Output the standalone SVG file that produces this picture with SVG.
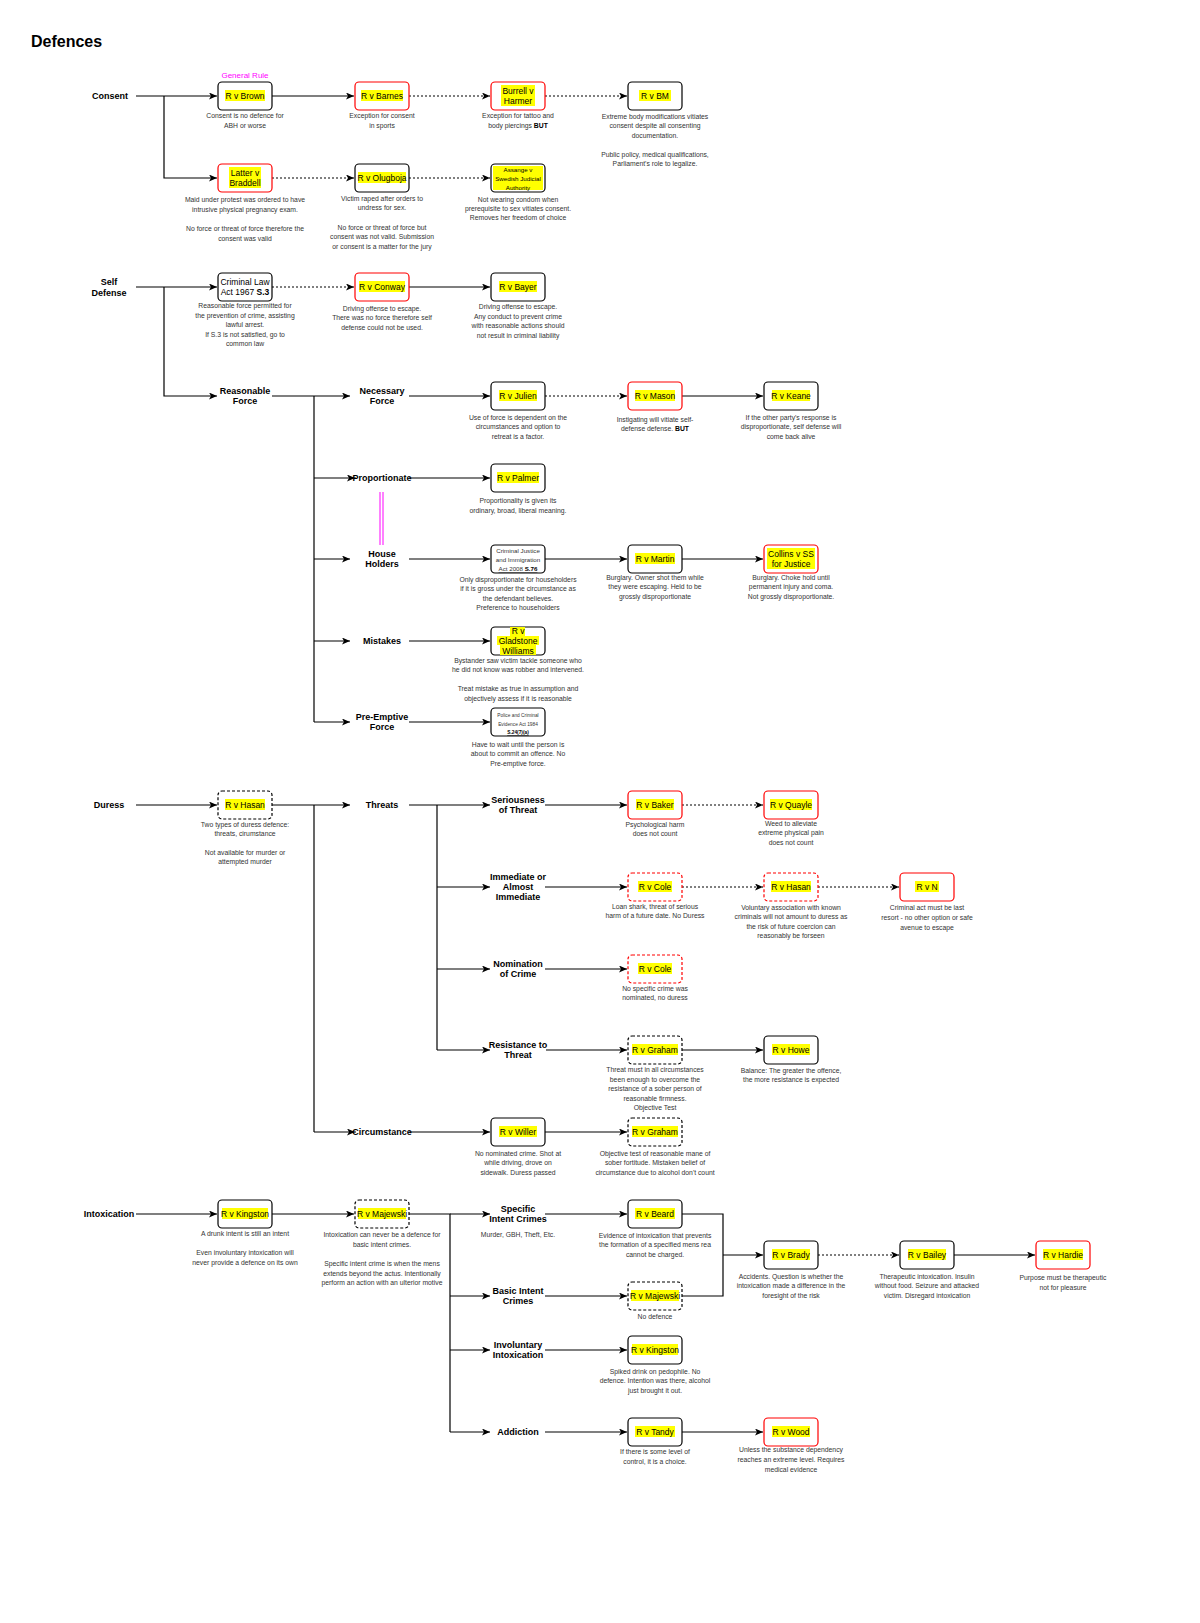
<svg xmlns="http://www.w3.org/2000/svg" width="1200" height="1623" viewBox="0 0 1200 1623">
<style>
text{font-family:"Liberation Sans",Arial,sans-serif}
.n{fill:#fff;stroke:#000;stroke-width:1.2}
.r{fill:#fff;stroke:#ff0000;stroke-width:1.2}
.d{stroke-dasharray:3,2}
.t{font-size:8.5px;text-anchor:middle;fill:#000}
.hl{fill:#ffff00}
.l{font-size:9px;font-weight:bold;text-anchor:middle;fill:#000}
.s{font-size:6.8px;text-anchor:middle;fill:#333}
.c{fill:none;stroke:#000;stroke-width:1.2}
.a{marker-end:url(#ar)}
.dt{stroke-dasharray:2,2}
.sm{font-size:12.4px;text-anchor:middle}
.xs{font-size:9.6px;text-anchor:middle}
</style>
<defs><marker id="ar" markerWidth="8" markerHeight="7" refX="8" refY="3.5" orient="auto" markerUnits="userSpaceOnUse"><path d="M0,0 L8,3.5 L0,7 L2,3.5 z" fill="#000"/></marker></defs>
<rect width="1200" height="1623" fill="#fff"/>
<text x="31" y="47" font-size="16" font-weight="bold">Defences</text>

<g id="connectors">
<path class="c a" d="M136,96 H217"/>
<path class="c a" d="M164,96 V178 H217"/>
<path class="c a" d="M272,96 H354"/>
<path class="c a dt" d="M409,96 H490"/>
<path class="c a dt" d="M545,96 H627"/>
<path class="c a dt" d="M272,178 H354"/>
<path class="c a dt" d="M409,178 H490"/>
<path class="c a" d="M136,287 H217"/>
<path class="c a" d="M164,287 V396 H217"/>
<path class="c a dt" d="M272,287 H354"/>
<path class="c a" d="M409,287 H490"/>
<path class="c a" d="M272,396 H350"/>
<path class="c" d="M314,396 V722"/>
<path class="c a" d="M409,396 H490"/>
<path class="c a dt" d="M545,396 H627"/>
<path class="c a" d="M682,396 H763"/>
<path class="c a" d="M314,478 H355"/>
<path class="c a" d="M355,478 H490"/>
<path class="c a" d="M314,559 H350"/>
<path class="c a" d="M409,559 H490"/>
<path class="c a" d="M545,559 H627"/>
<path class="c a" d="M682,559 H763"/>
<path class="c a" d="M314,641 H350"/>
<path class="c a" d="M409,641 H490"/>
<path class="c a" d="M314,722 H350"/>
<path class="c a" d="M409,722 H490"/>
<path d="M380,492 V545 M383,492 V545" stroke="#ff00ff" stroke-width="1"/>
<path class="c a" d="M136,805 H217"/>
<path class="c a" d="M272,805 H350"/>
<path class="c" d="M314,805 V1132"/>
<path class="c a" d="M409,805 H490"/>
<path class="c" d="M437,805 V1050"/>
<path class="c a" d="M545,805 H627"/>
<path class="c a dt" d="M682,805 H763"/>
<path class="c a" d="M437,887 H490"/>
<path class="c a" d="M545,887 H627"/>
<path class="c a dt" d="M682,887 H763"/>
<path class="c a dt" d="M818,887 H899"/>
<path class="c a" d="M437,969 H490"/>
<path class="c a" d="M545,969 H627"/>
<path class="c a" d="M437,1050 H490"/>
<path class="c a" d="M545,1050 H627"/>
<path class="c a" d="M682,1050 H763"/>
<path class="c a" d="M314,1132 H355"/>
<path class="c a" d="M355,1132 H490"/>
<path class="c a" d="M545,1132 H627"/>
<path class="c a" d="M136,1214 H217"/>
<path class="c a" d="M272,1214 H354"/>
<path class="c" d="M409,1214 H450 V1432"/>
<path class="c a" d="M450,1214 H490"/>
<path class="c a" d="M545,1214 H627"/>
<path class="c" d="M682,1214 H723 V1296 H682"/>
<path class="c a" d="M723,1255 H763"/>
<path class="c a dt" d="M818,1255 H899"/>
<path class="c a" d="M954,1255 H1035"/>
<path class="c a" d="M450,1296 H490"/>
<path class="c a" d="M545,1296 H627"/>
<path class="c a" d="M450,1350 H490"/>
<path class="c a" d="M545,1350 H627"/>
<path class="c a" d="M450,1432 H490"/>
<path class="c a" d="M545,1432 H627"/>
<path class="c a" d="M682,1432 H763"/>
</g>

<g id="consent"><text class="l" x="110" y="99">Consent</text></g>
<g id="self-defense"><text class="l" x="109" y="285">Self</text><text class="l" x="109" y="296">Defense</text></g>
<g id="duress"><text class="l" x="109" y="808">Duress</text></g>
<g id="intoxication"><text class="l" x="109" y="1217">Intoxication</text></g>
<g id="l-reasonable"><text class="l" x="245" y="394" font-size="8">Reasonable</text><text class="l" x="245" y="404" font-size="8">Force</text></g>
<g id="l-necessary"><text class="l" x="382" y="394" font-size="8">Necessary</text><text class="l" x="382" y="404" font-size="8">Force</text></g>
<g id="l-proportionate"><rect x="356" y="472" width="53" height="11" fill="#fff"/><text class="l" x="382" y="481" font-size="8">Proportionate</text></g>
<g id="l-house"><text class="l" x="382" y="557" font-size="8">House</text><text class="l" x="382" y="567" font-size="8">Holders</text></g>
<g id="l-mistakes"><text class="l" x="382" y="644" font-size="8">Mistakes</text></g>
<g id="l-preemptive"><text class="l" x="382" y="720" font-size="8">Pre-Emptive</text><text class="l" x="382" y="730" font-size="8">Force</text></g>
<g id="l-threats"><text class="l" x="382" y="808" font-size="8">Threats</text></g>
<g id="l-serious"><text class="l" x="518" y="803" font-size="8">Seriousness</text><text class="l" x="518" y="813" font-size="8">of Threat</text></g>
<g id="l-immediate"><text class="l" x="518" y="880" font-size="8">Immediate or</text><text class="l" x="518" y="890" font-size="8">Almost</text><text class="l" x="518" y="900" font-size="8">Immediate</text></g>
<g id="l-nomination"><text class="l" x="518" y="967" font-size="8">Nomination</text><text class="l" x="518" y="977" font-size="8">of Crime</text></g>
<g id="l-resistance"><rect x="490" y="1043" width="56" height="10" fill="#fff"/><text class="l" x="518" y="1048" font-size="8">Resistance to</text><text class="l" x="518" y="1058" font-size="8">Threat</text></g>
<g id="l-circumstance"><rect x="356" y="1126" width="53" height="11" fill="#fff"/><text class="l" x="382" y="1135" font-size="8">Circumstance</text></g>
<g id="l-specific"><text class="l" x="518" y="1212" font-size="8">Specific</text><text class="l" x="518" y="1222" font-size="8">Intent Crimes</text><text class="s" x="518" y="1237">Murder, GBH, Theft, Etc.</text></g>
<g id="l-basic"><text class="l" x="518" y="1294" font-size="8">Basic Intent</text><text class="l" x="518" y="1304" font-size="8">Crimes</text></g>
<g id="l-involuntary"><text class="l" x="518" y="1348" font-size="8">Involuntary</text><text class="l" x="518" y="1358" font-size="8">Intoxication</text></g>
<g id="l-addiction"><text class="l" x="518" y="1435" font-size="8">Addiction</text></g>

<g id="brown"><text x="245" y="78" font-size="8" fill="#ff00ff" text-anchor="middle">General Rule</text><rect class="n" x="218" y="82" width="54" height="28" rx="4"/><rect class="hl" x="225" y="90" width="40" height="11"/><text class="t" x="245" y="99">R v Brown</text><text class="s" x="245" y="118">Consent is no defence for</text><text class="s" x="245" y="128">ABH or worse</text></g>
<g id="barnes"><rect class="r" x="355" y="82" width="54" height="28" rx="4"/><rect class="hl" x="361" y="90" width="42" height="11"/><text class="t" x="382" y="99">R v Barnes</text><text class="s" x="382" y="118">Exception for consent</text><text class="s" x="382" y="128">in sports</text></g>
<g id="burrell"><rect class="r" x="491" y="82" width="54" height="28" rx="4"/><rect class="hl" x="501" y="85" width="34" height="21"/><text class="t" x="518" y="94">Burrell v</text><text class="t" x="518" y="104">Harmer</text><text class="s" x="518" y="118">Exception for tattoo and</text><text class="s" x="518" y="128">body piercings <tspan font-weight="bold" fill="#000">BUT</tspan></text></g>
<g id="bm"><rect class="n" x="628" y="82" width="54" height="28" rx="4"/><rect class="hl" x="639" y="90" width="32" height="11"/><text class="t" x="655" y="99">R v BM</text><text class="s" x="655" y="119">Extreme body modifications vitiates</text><text class="s" x="655" y="128">consent despite all consenting</text><text class="s" x="655" y="138">documentation.</text><text class="s" x="655" y="157">Public policy, medical qualifications,</text><text class="s" x="655" y="166">Parliament's role to legalize.</text></g>
<g id="latter"><rect class="r" x="218" y="164" width="54" height="28" rx="4"/><rect class="hl" x="229" y="167" width="32" height="21"/><text class="t" x="245" y="176">Latter v</text><text class="t" x="245" y="186">Braddell</text><text class="s" x="245" y="202">Maid under protest was ordered to have</text><text class="s" x="245" y="212">intrusive physical pregnancy exam.</text><text class="s" x="245" y="231">No force or threat of force therefore the</text><text class="s" x="245" y="241">consent was valid</text></g>
<g id="olugboja"><rect class="n" x="355" y="164" width="54" height="28" rx="4"/><rect class="hl" x="358" y="172" width="48" height="11"/><text class="t" x="382" y="181">R v Olugboja</text><text class="s" x="382" y="201">Victim raped after orders to</text><text class="s" x="382" y="210">undress for sex.</text><text class="s" x="382" y="230">No force or threat of force but</text><text class="s" x="382" y="239">consent was not valid. Submission</text><text class="s" x="382" y="249">or consent is a matter for the jury</text></g>
<g id="assange"><rect class="n" x="491" y="164" width="54" height="28" rx="4"/><rect class="hl" x="493" y="166" width="50" height="24"/><g transform="translate(518,0) scale(0.5,1)"><text class="sm" x="0" y="172" transform="scale(1,0.5)" style="display:none"> </text></g><text class="sm" transform="translate(518,172) scale(0.5)">Assange v</text><text class="sm" transform="translate(518,181) scale(0.5)">Swedish Judicial</text><text class="sm" transform="translate(518,190) scale(0.5)">Authority</text><text class="s" x="518" y="202">Not wearing condom when</text><text class="s" x="518" y="211">prerequisite to sex vitiates consent.</text><text class="s" x="518" y="220">Removes her freedom of choice</text></g>

<g id="cla"><rect class="n" x="218" y="273" width="54" height="28" rx="4"/><text class="t" x="245" y="285" fill="#333" font-size="8">Criminal Law</text><text class="t" x="245" y="295" fill="#333" font-size="8">Act 1967 <tspan font-weight="bold" fill="#000">S.3</tspan></text><text class="s" x="245" y="308">Reasonable force permitted for</text><text class="s" x="245" y="318">the prevention of crime, assisting</text><text class="s" x="245" y="327">lawful arrest.</text><text class="s" x="245" y="337">If S.3 is not satisfied, go to</text><text class="s" x="245" y="346">common law</text></g>
<g id="conway"><rect class="r" x="355" y="273" width="54" height="28" rx="4"/><rect class="hl" x="359" y="281" width="46" height="11"/><text class="t" x="382" y="290">R v Conway</text><text class="s" x="382" y="311">Driving offense to escape.</text><text class="s" x="382" y="320">There was no force therefore self</text><text class="s" x="382" y="330">defense could not be used.</text></g>
<g id="bayer"><rect class="n" x="491" y="273" width="54" height="28" rx="4"/><rect class="hl" x="499" y="281" width="38" height="11"/><text class="t" x="518" y="290">R v Bayer</text><text class="s" x="518" y="309">Driving offense to escape.</text><text class="s" x="518" y="319">Any conduct to prevent crime</text><text class="s" x="518" y="328">with reasonable actions should</text><text class="s" x="518" y="338">not result in criminal liability</text></g>
<g id="julien"><rect class="n" x="491" y="382" width="54" height="28" rx="4"/><rect class="hl" x="499" y="390" width="38" height="11"/><text class="t" x="518" y="399">R v Julien</text><text class="s" x="518" y="420">Use of force is dependent on the</text><text class="s" x="518" y="429">circumstances and option to</text><text class="s" x="518" y="439">retreat is a factor.</text></g>
<g id="mason"><rect class="r" x="628" y="382" width="54" height="28" rx="4"/><rect class="hl" x="635" y="390" width="40" height="11"/><text class="t" x="655" y="399">R v Mason</text><text class="s" x="655" y="422">Instigating will vitiate self-</text><text class="s" x="655" y="431">defense defense. <tspan font-weight="bold" fill="#000">BUT</tspan></text></g>
<g id="keane"><rect class="n" x="764" y="382" width="54" height="28" rx="4"/><rect class="hl" x="772" y="390" width="38" height="11"/><text class="t" x="791" y="399">R v Keane</text><text class="s" x="791" y="420">If the other party's response is</text><text class="s" x="791" y="429">disproportionate, self defense will</text><text class="s" x="791" y="439">come back alive</text></g>
<g id="palmer"><rect class="n" x="491" y="464" width="54" height="28" rx="4"/><rect class="hl" x="497" y="472" width="42" height="11"/><text class="t" x="518" y="481">R v Palmer</text><text class="s" x="518" y="503">Proportionality is given its</text><text class="s" x="518" y="513">ordinary, broad, liberal meaning.</text></g>
<g id="cjia"><rect class="n" x="491" y="545" width="54" height="28" rx="4"/><text class="sm" fill="#333" transform="translate(518,553) scale(0.5)">Criminal Justice</text><text class="sm" fill="#333" transform="translate(518,562) scale(0.5)">and Immigration</text><text class="sm" fill="#333" text-decoration="underline" transform="translate(518,571) scale(0.5)">Act 2008 <tspan font-weight="bold" fill="#000">S.76</tspan></text><text class="s" x="518" y="582">Only disproportionate for householders</text><text class="s" x="518" y="591">if it is gross under the circumstance as</text><text class="s" x="518" y="601">the defendant believes.</text><text class="s" x="518" y="610">Preference to householders</text></g>
<g id="martin"><rect class="n" x="628" y="545" width="54" height="28" rx="4"/><rect class="hl" x="635" y="553" width="40" height="11"/><text class="t" x="655" y="562">R v Martin</text><text class="s" x="655" y="580">Burglary. Owner shot them while</text><text class="s" x="655" y="589">they were escaping. Held to be</text><text class="s" x="655" y="599">grossly disproportionate</text></g>
<g id="collins"><rect class="r" x="764" y="545" width="54" height="28" rx="4"/><rect class="hl" x="767" y="548" width="48" height="21"/><text class="t" x="791" y="557">Collins v SS</text><text class="t" x="791" y="567">for Justice</text><text class="s" x="791" y="580">Burglary. Choke hold until</text><text class="s" x="791" y="589">permanent injury and coma.</text><text class="s" x="791" y="599">Not grossly disproportionate.</text></g>
<g id="gladstone"><rect class="n" x="491" y="627" width="54" height="28" rx="4"/><rect class="hl" x="510" y="627" width="15" height="9"/><rect class="hl" x="497" y="636" width="42" height="9"/><rect class="hl" x="500" y="645" width="36" height="10"/><text class="t" x="518" y="634">R v</text><text class="t" x="518" y="644">Gladstone</text><text class="t" x="518" y="654">Williams</text><text class="s" x="518" y="663">Bystander saw victim tackle someone who</text><text class="s" x="518" y="672">he did not know was robber and intervened.</text><text class="s" x="518" y="691">Treat mistake as true in assumption and</text><text class="s" x="518" y="701">objectively assess if it is reasonable</text></g>
<g id="pace"><rect class="n" x="491" y="708" width="54" height="28" rx="4"/><text class="xs" fill="#333" transform="translate(518,717) scale(0.5)">Police and Criminal</text><text class="xs" fill="#333" transform="translate(518,726) scale(0.5)">Evidence Act 1984</text><text class="xs" font-weight="bold" text-decoration="underline" transform="translate(518,734) scale(0.5)">S.24(7)(a)</text><text class="s" x="518" y="747">Have to wait until the person is</text><text class="s" x="518" y="756">about to commit an offence. No</text><text class="s" x="518" y="766">Pre-emptive force.</text></g>

<g id="hasan"><rect class="n d" x="218" y="791" width="54" height="28" rx="4"/><rect class="hl" x="225" y="799" width="40" height="11"/><text class="t" x="245" y="808">R v Hasan</text><text class="s" x="245" y="827">Two types of duress defence:</text><text class="s" x="245" y="836">threats, cirumstance</text><text class="s" x="245" y="855">Not available for murder or</text><text class="s" x="245" y="864">attempted murder</text></g>
<g id="baker"><rect class="r" x="628" y="791" width="54" height="28" rx="4"/><rect class="hl" x="636" y="799" width="38" height="11"/><text class="t" x="655" y="808">R v Baker</text><text class="s" x="655" y="827">Psychological harm</text><text class="s" x="655" y="836">does not count</text></g>
<g id="quayle"><rect class="r" x="764" y="791" width="54" height="28" rx="4"/><rect class="hl" x="770" y="799" width="42" height="11"/><text class="t" x="791" y="808">R v Quayle</text><text class="s" x="791" y="826">Weed to alleviate</text><text class="s" x="791" y="835">extreme physical pain</text><text class="s" x="791" y="845">does not count</text></g>
<g id="cole1"><rect class="r d" x="628" y="873" width="54" height="28" rx="4"/><rect class="hl" x="638" y="881" width="34" height="11"/><text class="t" x="655" y="890">R v Cole</text><text class="s" x="655" y="909">Loan shark, threat of serious</text><text class="s" x="655" y="918">harm of a future date. No Duress</text></g>
<g id="hasan2"><rect class="r d" x="764" y="873" width="54" height="28" rx="4"/><rect class="hl" x="771" y="881" width="40" height="11"/><text class="t" x="791" y="890">R v Hasan</text><text class="s" x="791" y="910">Voluntary association with known</text><text class="s" x="791" y="919">criminals will not amount to duress as</text><text class="s" x="791" y="929">the risk of future coercion can</text><text class="s" x="791" y="938">reasonably be forseen</text></g>
<g id="rvn"><rect class="r" x="900" y="873" width="54" height="28" rx="4"/><rect class="hl" x="915" y="881" width="24" height="11"/><text class="t" x="927" y="890">R v N</text><text class="s" x="927" y="910">Criminal act must be last</text><text class="s" x="927" y="920">resort - no other option or safe</text><text class="s" x="927" y="930">avenue to escape</text></g>
<g id="cole2"><rect class="r d" x="628" y="955" width="54" height="28" rx="4"/><rect class="hl" x="638" y="963" width="34" height="11"/><text class="t" x="655" y="972">R v Cole</text><text class="s" x="655" y="991">No specific crime was</text><text class="s" x="655" y="1000">nominated, no duress</text></g>
<g id="graham1"><rect class="n d" x="628" y="1036" width="54" height="28" rx="4"/><rect class="hl" x="632" y="1044" width="46" height="11"/><text class="t" x="655" y="1053">R v Graham</text><text class="s" x="655" y="1072">Threat must in all circumstances</text><text class="s" x="655" y="1082">been enough to overcome the</text><text class="s" x="655" y="1091">resistance of a sober person of</text><text class="s" x="655" y="1101">reasonable firmness.</text><text class="s" x="655" y="1110">Objective Test</text></g>
<g id="howe"><rect class="n" x="764" y="1036" width="54" height="28" rx="4"/><rect class="hl" x="772" y="1044" width="38" height="11"/><text class="t" x="791" y="1053">R v Howe</text><text class="s" x="791" y="1073">Balance: The greater the offence,</text><text class="s" x="791" y="1082">the more resistance is expected</text></g>
<g id="willer"><rect class="n" x="491" y="1118" width="54" height="28" rx="4"/><rect class="hl" x="499" y="1126" width="38" height="11"/><text class="t" x="518" y="1135">R v Willer</text><text class="s" x="518" y="1156">No nominated crime. Shot at</text><text class="s" x="518" y="1165">while driving, drove on</text><text class="s" x="518" y="1175">sidewalk. Duress passed</text></g>
<g id="graham2"><rect class="n d" x="628" y="1118" width="54" height="28" rx="4"/><rect class="hl" x="632" y="1126" width="46" height="11"/><text class="t" x="655" y="1135">R v Graham</text><text class="s" x="655" y="1156">Objective test of reasonable mane of</text><text class="s" x="655" y="1165">sober fortitude. Mistaken belief of</text><text class="s" x="655" y="1175">circumstance due to alcohol don't count</text></g>

<g id="kingston1"><rect class="n" x="218" y="1200" width="54" height="28" rx="4"/><rect class="hl" x="222" y="1208" width="46" height="11"/><text class="t" x="245" y="1217">R v Kingston</text><text class="s" x="245" y="1236">A drunk intent is still an intent</text><text class="s" x="245" y="1255">Even involuntary intoxication will</text><text class="s" x="245" y="1265">never provide a defence on its own</text></g>
<g id="majewski1"><rect class="n d" x="355" y="1200" width="54" height="28" rx="4"/><rect class="hl" x="358" y="1208" width="48" height="11"/><text class="t" x="382" y="1217">R v Majewski</text><text class="s" x="382" y="1237">Intoxication can never be a defence for</text><text class="s" x="382" y="1247">basic intent crimes.</text><text class="s" x="382" y="1266">Specific intent crime is when the mens</text><text class="s" x="382" y="1276">extends beyond the actus. Intentionally</text><text class="s" x="382" y="1285">perform an action with an ulterior motive</text></g>
<g id="beard"><rect class="n" x="628" y="1200" width="54" height="28" rx="4"/><rect class="hl" x="635" y="1208" width="40" height="11"/><text class="t" x="655" y="1217">R v Beard</text><text class="s" x="655" y="1238">Evidence of intoxication that prevents</text><text class="s" x="655" y="1247">the formation of a specified mens rea</text><text class="s" x="655" y="1257">cannot be charged.</text></g>
<g id="brady"><rect class="n" x="764" y="1241" width="54" height="28" rx="4"/><rect class="hl" x="772" y="1249" width="38" height="11"/><text class="t" x="791" y="1258">R v Brady</text><text class="s" x="791" y="1279">Accidents. Question is whether the</text><text class="s" x="791" y="1288">intoxication made a difference in the</text><text class="s" x="791" y="1298">foresight of the risk</text></g>
<g id="bailey"><rect class="n" x="900" y="1241" width="54" height="28" rx="4"/><rect class="hl" x="908" y="1249" width="38" height="11"/><text class="t" x="927" y="1258">R v Bailey</text><text class="s" x="927" y="1279">Therapeutic intoxication. Insulin</text><text class="s" x="927" y="1288">without food. Seizure and attacked</text><text class="s" x="927" y="1298">victim. Disregard intoxication</text></g>
<g id="hardie"><rect class="r" x="1036" y="1241" width="54" height="28" rx="4"/><rect class="hl" x="1043" y="1249" width="40" height="11"/><text class="t" x="1063" y="1258">R v Hardie</text><text class="s" x="1063" y="1280">Purpose must be therapeutic</text><text class="s" x="1063" y="1290">not for pleasure</text></g>
<g id="majewski2"><rect class="n d" x="628" y="1282" width="54" height="28" rx="4"/><rect class="hl" x="631" y="1290" width="48" height="11"/><text class="t" x="655" y="1299">R v Majewski</text><text class="s" x="655" y="1319">No defence</text></g>
<g id="kingston2"><rect class="n" x="628" y="1336" width="54" height="28" rx="4"/><rect class="hl" x="632" y="1344" width="46" height="11"/><text class="t" x="655" y="1353">R v Kingston</text><text class="s" x="655" y="1374">Spiked drink on pedophile. No</text><text class="s" x="655" y="1383">defence. Intention was there, alcohol</text><text class="s" x="655" y="1393">just brought it out.</text></g>
<g id="tandy"><rect class="n" x="628" y="1418" width="54" height="28" rx="4"/><rect class="hl" x="635" y="1426" width="40" height="11"/><text class="t" x="655" y="1435">R v Tandy</text><text class="s" x="655" y="1454">If there is some level of</text><text class="s" x="655" y="1464">control, it is a choice.</text></g>
<g id="wood"><rect class="r" x="764" y="1418" width="54" height="28" rx="4"/><rect class="hl" x="772" y="1426" width="38" height="11"/><text class="t" x="791" y="1435">R v Wood</text><text class="s" x="791" y="1452">Unless the substance dependency</text><text class="s" x="791" y="1462">reaches an extreme level. Requires</text><text class="s" x="791" y="1472">medical evidence</text></g>
</svg>
